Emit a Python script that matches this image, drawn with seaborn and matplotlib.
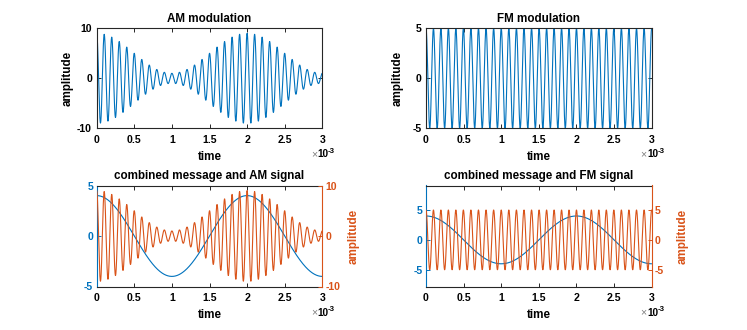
import numpy as np
import matplotlib
matplotlib.use("Agg")
import matplotlib.pyplot as plt
import seaborn as sns

# Signal parameters
t_start = 0.0            # s
t_end = 3e-3             # s
sample_rate = 1e6        # Hz
msg_amp = 4.0            # message amplitude
msg_freq = 500.0         # Hz
carrier_amp = 5.0        # carrier amplitude
carrier_freq = 10e3      # Hz
fm_freq_dev = 100.0      # Hz, peak frequency deviation

# Axis settings
time_ticks = [0, 0.5e-3, 1e-3, 1.5e-3, 2e-3, 2.5e-3, 3e-3]
am_ticks = [-10, 0, 10]
fm_ticks = [-5, 0, 5]
msg_ticks = [-5, 0, 5]
fm_combined_lim = (-7.8, 9.1)

titles = ["AM modulation", "FM modulation",
          "combined message and AM signal", "combined message and FM signal"]
xlabel_text = "time"
ylabel_text = "amplitude"

# Waveforms
t = np.arange(t_start, t_end + 0.5 / sample_rate, 1 / sample_rate)
message = msg_amp * np.cos(2 * np.pi * msg_freq * t)
am_signal = (carrier_amp + message) * np.cos(2 * np.pi * carrier_freq * t)
fm_signal = carrier_amp * np.cos(2 * np.pi * carrier_freq * t
                                 + (fm_freq_dev / msg_freq) * np.sin(2 * np.pi * msg_freq * t))

BLUE = "#0072BD"
ORANGE = "#D95319"
DARK = "#262626"

sns.set_theme(style="white")
plt.rcParams["font.family"] = ["Liberation Sans", "DejaVu Sans"]
plt.rcParams["font.weight"] = "bold"
plt.rcParams["axes.unicode_minus"] = False

W, H = 747, 330
fig = plt.figure(figsize=(W / 100, H / 100), dpi=100)


def px_axes(x0, y0, x1, y1):
    return fig.add_axes([x0 / W, 1 - y1 / H, (x1 - x0) / W, (y1 - y0) / H])


ax_am = px_axes(96.7, 28.3, 322.3, 128.3)
ax_fm = px_axes(426.0, 28.3, 651.7, 128.3)
ax_cam = px_axes(96.7, 185.5, 322.3, 286.5)
ax_cfm = px_axes(426.0, 185.5, 651.7, 286.5)

TICK_FS = 7.6
LABEL_FS = 8.4


def time_axis(ax, height_px):
    ax.set_xlim(t_start, t_end)
    ax.set_xticks(time_ticks)
    ax.xaxis.set_major_formatter(matplotlib.ticker.FuncFormatter(lambda v, _: f"{v * 1e3:g}"))
    ax.tick_params(axis="x", direction="in", length=3, width=0.7, colors=DARK,
                   labelcolor="black", labelsize=TICK_FS, pad=5, top=True, bottom=True)
    ax.set_xlabel(xlabel_text, fontsize=LABEL_FS, fontweight="bold", color="black")
    ax.xaxis.set_label_coords(0.5, -28.7 / height_px)
    ax.xaxis.label.set_va("center")
    # exponent of the time axis: x10^-3
    ax.annotate("\u00d7", xy=(1, 0), xycoords="axes fraction", xytext=(-3.8, -20.9),
                textcoords="offset points", ha="right", va="baseline",
                fontsize=7.6, color="#808080", fontweight="normal")
    ax.annotate("10", xy=(1, 0), xycoords="axes fraction", xytext=(-3.4, -20.9),
                textcoords="offset points", ha="left", va="baseline",
                fontsize=7.2, color="black", fontweight="bold")
    ax.annotate("-3", xy=(1, 0), xycoords="axes fraction", xytext=(4.0, -17.6),
                textcoords="offset points", ha="left", va="baseline",
                fontsize=5.6, color="black", fontweight="bold")


def frame(ax, color=DARK):
    for s in ax.spines.values():
        s.set_color(color)
        s.set_linewidth(0.8)


def title(ax, text, height_px):
    ax.text(0.5, 1 + 9.3 / height_px, text, transform=ax.transAxes, ha="center",
            va="center", fontsize=LABEL_FS, fontweight="bold", color="black")


# Top row: single signals
for ax, sig, ticks, name in [(ax_am, am_signal, am_ticks, titles[0]),
                             (ax_fm, fm_signal, fm_ticks, titles[1])]:
    sns.lineplot(x=t, y=sig, ax=ax, color=BLUE, linewidth=0.8, estimator=None)
    ax.set_ylim(ticks[0], ticks[-1])
    ax.set_yticks(ticks)
    ax.tick_params(axis="y", direction="in", length=3, width=0.7, colors=DARK,
                   labelcolor="black", labelsize=TICK_FS, pad=3.3, left=True, right=True)
    ax.set_ylabel(ylabel_text, fontsize=LABEL_FS, fontweight="bold", color="black")
    ax.yaxis.set_label_coords(-28.7 / 225.6, 0.5)
    ax.yaxis.label.set_va("center")
    frame(ax)
    time_axis(ax, 100)
    title(ax, name, 100)

# Bottom row: message on the left axis, modulated signal on the right axis
for ax, sig, left_lim, right_lim, right_ticks, name in [
        (ax_cam, am_signal, (-5, 5), (-10, 10), am_ticks, titles[2]),
        (ax_cfm, fm_signal, fm_combined_lim, fm_combined_lim, fm_ticks, titles[3])]:
    sns.lineplot(x=t, y=message, ax=ax, color=BLUE, linewidth=0.8, estimator=None)
    ax.set_ylim(*left_lim)
    ax.set_yticks(msg_ticks)
    ax.set_ylabel("")
    ax.tick_params(axis="y", direction="in", length=3, width=0.7, colors=BLUE,
                   labelcolor=BLUE, labelsize=TICK_FS, pad=2.6, left=True, right=False)
    frame(ax)
    ax.spines["left"].set_color(BLUE)
    ax.spines["right"].set_visible(False)
    time_axis(ax, 101)
    title(ax, name, 101)

    ax2 = ax.twinx()
    sns.lineplot(x=t, y=sig, ax=ax2, color=ORANGE, linewidth=0.8, estimator=None)
    ax2.set_xlim(t_start, t_end)
    ax2.set_ylim(*right_lim)
    ax2.set_yticks(right_ticks)
    ax2.tick_params(axis="y", direction="in", length=3, width=0.7, colors=ORANGE,
                    labelcolor=ORANGE, labelsize=TICK_FS, pad=2.2, left=False, right=True)
    for side in ("left", "top", "bottom"):
        ax2.spines[side].set_visible(False)
    ax2.spines["right"].set_color(ORANGE)
    ax2.spines["right"].set_linewidth(0.8)
    ax2.set_ylabel(ylabel_text, fontsize=LABEL_FS, fontweight="bold", color=ORANGE,
                   rotation=90)
    ax2.yaxis.set_label_coords(1 + 31 / 225.6, 0.5)
    ax2.yaxis.label.set_va("center")
    ax2.yaxis.label.set_ha("center")

fig.savefig("out.png", dpi=100)
